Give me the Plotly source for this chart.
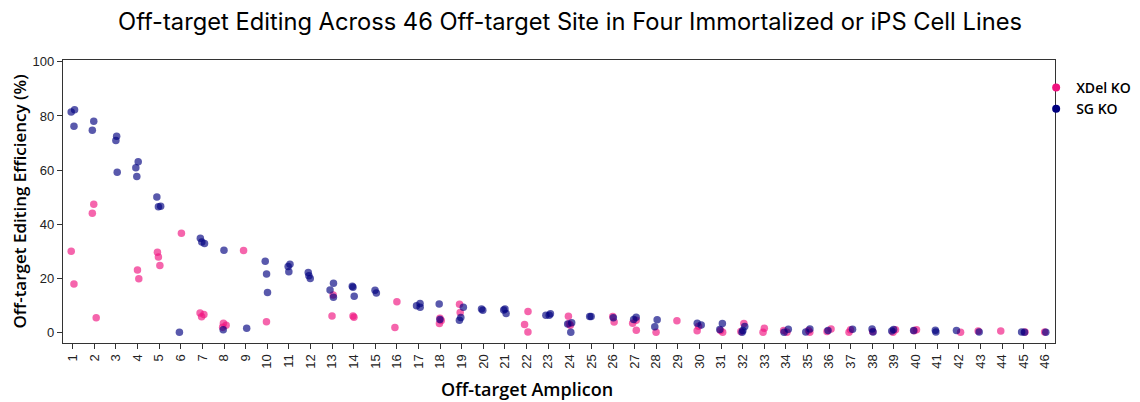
import plotly.graph_objects as go

# amplicon number / editing efficiency (%) per point
xdel_amp = [1, 1, 2, 2, 2, 4, 4, 5, 5, 5, 6, 7, 7, 7, 8, 8, 8, 9, 10,
            13, 13, 14, 14, 16, 16, 18, 18, 18, 19, 19, 22, 22, 22,
            24, 24, 24, 26, 26, 27, 27, 27, 28, 29, 30, 30, 31, 31,
            32, 32, 33, 33, 34, 34, 35, 35, 36, 36, 37, 37, 38, 39, 39,
            40, 40, 42, 43, 44, 45, 46]
xdel_eff = [29.9, 17.8, 47.3, 44.0, 5.3, 23.0, 19.8, 29.6, 27.8, 24.7, 36.6,
            7.1, 6.5, 5.7, 3.3, 2.6, 1.8, 30.2, 3.9,
            13.8, 6.0, 6.0, 5.5, 11.3, 1.7, 5.2, 4.3, 3.2, 10.3, 7.3, 7.7, 2.8, 0.1,
            5.9, 3.1, 2.6, 5.8, 3.8, 4.4, 3.3, 0.7, 0.0, 4.2, 2.2, 0.5, 0.6, 0.0,
            3.2, 0.3, 1.5, 0.0, 0.6, 0.0, 0.6, 0.0, 1.2, 0.3, 0.9, 0.0, 0.3, 0.9, 0.0,
            0.9, 0.5, 0.0, 0.4, 0.4, 0.1, 0.1]

sg_amp = [1, 1, 1, 2, 2, 3, 3, 3, 4, 4, 4, 5, 5, 5, 6, 7, 7, 7, 8, 8, 9,
          10, 10, 10, 11, 11, 11, 12, 12, 12, 13, 13, 13, 14, 14, 14, 15, 15,
          17, 17, 17, 18, 18, 19, 19, 19, 20, 20, 21, 21, 21, 23, 23, 23,
          24, 24, 24, 25, 25, 26, 27, 27, 28, 28, 30, 30, 31, 31, 32, 32, 32,
          34, 34, 35, 35, 36, 37, 38, 38, 39, 39, 40, 41, 41, 42, 43, 45, 45, 46]
sg_eff = [81.5, 82.3, 76.2, 78.0, 74.7, 72.5, 70.9, 59.2, 63.1, 60.8, 57.6,
          50.0, 46.4, 46.6, 0.0, 34.8, 33.4, 32.8, 30.3, 0.9, 1.5,
          26.2, 21.5, 14.7, 25.1, 24.3, 22.4, 22.1, 20.9, 19.9, 18.1, 15.6, 12.9,
          17.0, 16.6, 13.3, 15.5, 14.5,
          10.6, 9.8, 9.2, 10.4, 4.7, 9.2, 5.4, 4.4, 8.6, 8.1, 8.6, 8.2, 6.9, 6.8, 6.3, 6.3,
          3.5, 3.0, 0.0, 5.8, 5.8, 5.3, 5.5, 4.7, 4.6, 2.0, 3.3, 2.7, 3.2, 1.0, 2.1, 0.6, 0.0,
          1.1, 0.0, 1.2, 0.1, 0.6, 1.1, 1.2, 0.1, 1.0, 0.4, 0.6, 0.7, 0.1, 0.6, 0.1, 0.0, 0.1, 0.0]

amplicons = [str(i) for i in range(1, 47)]

fig = go.Figure()
for name, amp, eff, col in [("XDel KO", xdel_amp, xdel_eff, "#F0137F"),
                            ("SG KO", sg_amp, sg_eff, "#00007F")]:
    # strip of points, jitter done by plotly
    fig.add_trace(go.Box(
        x=[str(a) for a in amp], y=eff, name=name, legendgroup=name, showlegend=False,
        boxpoints="all", jitter=0.45, pointpos=0,
        fillcolor="rgba(0,0,0,0)", line=dict(width=0),
        marker=dict(color=col, size=7.5, opacity=0.65),
    ))
    # legend entry with a plain dot
    fig.add_trace(go.Scatter(x=[None], y=[None], mode="markers", name=name,
                             legendgroup=name, marker=dict(color=col, size=8)))

axis_style = dict(showline=True, linecolor="#333", linewidth=1.3, mirror=True,
                  ticks="outside", ticklen=5, tickcolor="#333", showgrid=False,
                  zeroline=False, automargin=False,
                  tickfont=dict(family="Liberation Sans", size=13, color="#222"))

title_font = dict(family="Open Sans", size=17, color="black", weight=600)

# page body adds an 8px offset, so the figure is kept a bit smaller than the window
W, H = 1132, 394
fig.update_layout(
    width=W, height=H,
    margin=dict(l=55, r=85, t=52, b=59, autoexpand=False),
    plot_bgcolor="white", paper_bgcolor="white",
    boxmode="overlay",
    title=dict(text="Off-target Editing Across 46 Off-target Site in Four Immortalized or iPS Cell Lines",
               x=562 / W, xanchor="center", y=1 - 14 / H, yanchor="middle",
               font=dict(family="Inter", size=23.7, color="black")),
    legend=dict(x=0.981, y=0.958, xanchor="left", yanchor="top",
                bgcolor="rgba(0,0,0,0)",
                font=dict(family="Open Sans", size=14, color="black", weight=600),
                itemwidth=30, tracegroupgap=0),
)
# x title sits a little left of the plot centre in the reference
fig.add_annotation(text="Off-target Amplicon", xref="paper", yref="paper",
                   x=0.468, y=-0.1615, xanchor="center", yanchor="middle",
                   showarrow=False, font=dict(title_font, size=18))
fig.update_xaxes(axis_style, categoryorder="array", categoryarray=amplicons,
                 range=[-0.45, 45.45], tickangle=-90)
fig.update_yaxes(axis_style, range=[-4, 100.7], tickvals=[0, 20, 40, 60, 80, 100],
                 title=dict(text="Off-target Editing Efficiency (%)", standoff=8, font=title_font))

fig.write_html("out.html")
